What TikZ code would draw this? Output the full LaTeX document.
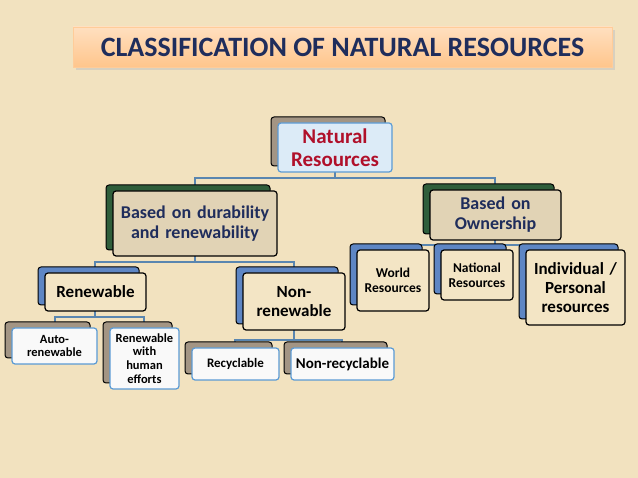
\documentclass[tikz,border=0pt]{standalone}
\usepackage{fontspec}
\setmainfont{Carlito}
\definecolor{bg}{HTML}{F2E2BF}
\definecolor{navy}{HTML}{1F2D5C}
\definecolor{dred}{HTML}{B0102A}
\definecolor{conn}{HTML}{5A86B0}
\definecolor{gback}{HTML}{2F5E3B}
\definecolor{bback}{HTML}{5E86C4}
\definecolor{tback}{HTML}{A39584}
\definecolor{lblue}{HTML}{5B9BD5}
\definecolor{natfill}{HTML}{DCEBF7}
\tikzset{
 conn/.style={draw=conn,line width=1.6pt},
 front/.style={rounded corners=3pt,line width=1.2pt,align=center,font=\bfseries,inner sep=1pt},
 natf/.style={front,draw=lblue,fill=natfill,text=dred},
 durf/.style={front,draw=black,fill=gray!15!bg,text=navy},
 renf/.style={front,draw=black,fill=bg!90!white},
 leaff/.style={front,draw=lblue,fill=gray!5},
 backbox/.style={rounded corners=3pt,line width=1pt,draw=black},
}
% \bx{name}{x1}{y1}{x2}{y2}{frontstyle}{backcolor}{fontsize}{text}
\newcommand{\bx}[9]{%
 \draw[backbox,fill=#7] ({#2-7},{#3-6}) rectangle ({#4-7},{#5-6});
 \node[#6,minimum width={(#4-#2)*1pt},minimum height={(#5-#3)*1pt},text width={(#4-#2-4)*1pt},font=\fontsize{#8}{\dimexpr#8pt*110/100\relax}\selectfont\bfseries] (#1) at ({(#2+#4)/2},{(#3+#5)/2}) {#9};
}
\begin{document}
\begin{tikzpicture}[x=1pt,y=-1pt]
\fill[bg] (0,0) rectangle (638,478);
\useasboundingbox (0,0) rectangle (638,478);
\fill[black!25,opacity=.5] (76,30) rectangle (615,70);
\node[draw=orange!40,line width=.8pt,top color=orange!25!white,bottom color=orange!45!white,minimum width=539pt,minimum height=40pt,text=navy,font=\fontsize{28}{30}\selectfont\bfseries] (title) at (342.5,47) {CLASSIFICATION OF NATURAL RESOURCES};
% connectors
\coordinate (nb) at (335,172);
\coordinate (db) at (195,256);
\coordinate (ob) at (495,240);
\coordinate (rb) at (95,311);
\coordinate (nrb) at (294,330);
\draw[conn] (nb) -- (335,178) -| (195,191);
\draw[conn] (335,178) -| (495,190);
\draw[conn] (db) -- (195,262) -| (95,273);
\draw[conn] (195,262) -| (294,273);
\draw[conn] (ob) -- (495,245) -| (393,250);
\draw[conn] (495,245) -| (577,250);
\draw[conn] (495,245) -- (477,245) -- (477,250);
\draw[conn] (rb) -- (95,317) -| (55,328);
\draw[conn] (95,317) -| (144,328);
\draw[conn] (nrb) -- (294,340) -| (235,348);
\draw[conn] (294,340) -| (342,348);
% boxes
\bx{nat}{278}{123}{392}{172}{natf}{tback}{21}{Natural\\Resources}
\bx{dur}{113}{191}{277}{256}{durf}{gback}{18}{Based on durability\\and renewability}
\bx{own}{430}{190}{561}{240}{durf}{gback}{18}{Based on\\Ownership}
\bx{ren}{45}{273}{146}{311}{renf}{bback}{17}{Renewable}
\bx{non}{243}{273}{345}{330}{renf}{bback}{17}{Non-\\renewable}
\bx{wor}{357}{250}{429}{311}{renf}{bback}{13.5}{World\\Resources}
\bx{nati}{441}{250}{513}{300}{renf}{bback}{13.5}{National\\Resources}
\bx{ind}{526}{250}{625}{325}{renf}{bback}{17}{Individual /\\Personal\\resources}
\bx{auto}{12}{328}{97}{364}{leaff}{tback}{12.5}{Auto-\\renewable}
\bx{rwh}{110}{328}{179}{389}{leaff}{tback}{12.5}{Renewable\\with\\human\\efforts}
\bx{rec}{192}{348}{279}{380}{leaff}{tback}{13}{Recyclable}
\bx{nrec}{291}{348}{394}{380}{leaff}{tback}{15}{Non-recyclable}
\end{tikzpicture}
\end{document}
